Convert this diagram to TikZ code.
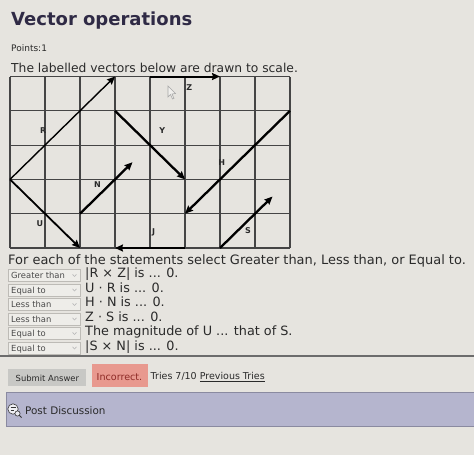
\documentclass[tikz,border=0pt]{standalone}
\usepackage{fontspec}
\setmainfont{DejaVu Sans}
\usetikzlibrary{arrows.meta}
\definecolor{bg}{HTML}{E6E4DF}
\definecolor{titlecol}{HTML}{2F2A45}
\definecolor{txt}{HTML}{2A2A2A}
\definecolor{gridcol}{HTML}{454545}
\definecolor{ddfill}{HTML}{EEEDE9}
\definecolor{ddline}{HTML}{BDBBB6}
\definecolor{btnfill}{HTML}{C8C8C5}
\definecolor{badfill}{HTML}{E8998F}
\definecolor{badtxt}{HTML}{8E2A26}
\definecolor{lav}{HTML}{B5B5CE}
\definecolor{lavline}{HTML}{8A8AA0}
\begin{document}
\begin{tikzpicture}[x=1pt,y=-1pt,
  plain/.style={anchor=base west,inner sep=0pt,text=txt},
  gridline/.style={draw=gridcol,line width=1.2pt},
  vec/.style={line width=2.3pt,-{Stealth[length=8pt,width=7pt,inset=1pt]}},
  thinvec/.style={line width=1.4pt,-{Stealth[length=8pt,width=7pt,inset=1pt]}},
  lbl/.style={inner sep=0pt,font=\bfseries\fontsize{8}{9}\selectfont,text=txt},
  ddbox/.style={draw=ddline,fill=ddfill,line width=0.5pt,minimum width=72pt,minimum height=12pt,inner sep=0pt,anchor=west},
  ddtext/.style={anchor=base west,inner sep=0pt,font=\fontsize{8.4}{10}\selectfont,text=txt!85},
  stmt/.style={anchor=base west,inner sep=0pt,font=\fontsize{12.8}{15}\selectfont,text=txt}]
\fill[bg] (0,0) rectangle (474,455);
\useasboundingbox (0,0) rectangle (474,455);

% header
\node[anchor=base west,inner sep=0pt,text=titlecol,font=\bfseries\fontsize{18}{20}\selectfont] (title) at (11,25) {Vector operations};
\node[plain,font=\fontsize{9}{11}\selectfont] (points) at (11,51.5) {Points:1};
\node[plain,font=\fontsize{12.3}{14}\selectfont] (intro) at (11,72) {The labelled vectors below are drawn to scale.};

% grid and vectors
\begin{scope}[shift={(10pt,-248pt)},x={(35pt,0pt)},y={(0pt,34.3pt)}]
  \foreach \gx in {0,...,8} {\draw[gridline] (\gx,0) -- (\gx,5);}
  \foreach \gy in {0,...,5} {\draw[gridline] (0,\gy) -- (8,\gy);}
  \coordinate (R0) at (0,2);   \coordinate (R1) at (3,5);
  \coordinate (U0) at (0,2);   \coordinate (U1) at (2,0);
  \coordinate (N0) at (2,1);   \coordinate (N1) at (3.5,2.5);
  \coordinate (Y0) at (3,4);   \coordinate (Y1) at (5,2);
  \coordinate (Z0) at (4,5);   \coordinate (Z1) at (6,5);
  \coordinate (H0) at (8,4);   \coordinate (H1) at (5,1);
  \coordinate (S0) at (6,0);   \coordinate (S1) at (7.5,1.5);
  \coordinate (J0) at (5,0);   \coordinate (J1) at (3,0);
  \draw[thinvec] (R0) -- (R1);
  \draw[thinvec,line width=1.8pt] (U0) -- (U1);
  \draw[vec] (N0) -- (N1);
  \draw[vec] (Y0) -- (Y1);
  \draw[vec,line width=2pt] (Z0) -- (Z1);
  \draw[vec] (H0) -- (H1);
  \draw[vec] (S0) -- (S1);
  \draw[vec] (J0) -- (J1);
  \node[lbl] (lR) at (0.95,3.42) {R};
  \node[lbl] (lU) at (0.85,0.7) {U};
  \node[lbl] (lN) at (2.5,1.85) {N};
  \node[lbl] (lY) at (4.35,3.42) {Y};
  \node[lbl] (lZ) at (5.12,4.68) {Z};
  \node[lbl] (lH) at (6.05,2.5) {H};
  \node[lbl] (lJ) at (4.1,0.45) {J};
  \node[lbl] (lS) at (6.8,0.52) {S};
\end{scope}
% mouse cursor
\draw[gray!70,line width=0.6pt,fill=bg!60!white] (168,86) -- (168,97) -- (170.5,94.5) -- (172.5,99) -- (174,98.3) -- (172,94) -- (175.5,93.5) -- cycle;

% statements
\node[plain,font=\fontsize{12.95}{15}\selectfont] (ask) at (8,264.5) {For each of the statements select Greater than, Less than, or Equal to.};
\foreach \i/\c/\sel/\st in {1/275.5/Greater than/{|R × Z| is ... 0.},
                          2/290/Equal to/{U · R is ... 0.},
                          3/304.5/Less than/{H · N is ... 0.},
                          4/319/Less than/{Z · S is ... 0.},
                          5/333.5/Equal to/{The magnitude of U ... that of S.},
                          6/348/Equal to/{|S × N| is ... 0.}}{
  \node[ddbox] (dd\i) at (8,\c) {};
  \node[ddtext] (ddt\i) at (11,\c+3) {\sel};
  \draw[gray!55,line width=0.6pt] ([xshift=-8pt,yshift=1.2pt]dd\i.east) -- ([xshift=-6pt,yshift=-1pt]dd\i.east) -- ([xshift=-4pt,yshift=1.2pt]dd\i.east);
  \node[stmt] (st\i) at (85,\c+2.3) {\st};
}
\draw[gray!85!black,line width=1.2pt] (0,356) -- (474,356);

% buttons
\node[fill=btnfill,minimum width=78pt,minimum height=17pt,inner sep=0pt,anchor=north west] (submitbox) at (8,369) {};
\node[plain,font=\fontsize{8.4}{10}\selectfont] (submit) at (15.5,381) {Submit Answer};
\node[fill=badfill,minimum width=56pt,minimum height=23pt,inner sep=0pt,anchor=north west] (badbox) at (92,364) {};
\node[anchor=base west,inner sep=0pt,text=badtxt,font=\fontsize{9.6}{11}\selectfont] (bad) at (96.5,380) {Incorrect.};
\node[plain,font=\fontsize{9.5}{11}\selectfont] (tries) at (150.5,379.5) {Tries 7/10 \underline{Previous Tries}};

% discussion bar
\node[fill=lav,draw=lavline,line width=0.8pt,minimum width=470pt,minimum height=34pt,inner sep=0pt,anchor=north west] (bar) at (6,392) {};
\draw[gray!40!black,line width=0.6pt,fill=white!80!lav] (13,409) circle (5.2);
\draw[gray!40!black,line width=0.5pt] (10.5,407.5) -- (15.5,407.5) (10.5,410) -- (14,410);
\draw[gray!40!black,line width=0.6pt,fill=white!70!lav] (17.5,413.5) circle (2.6);
\draw[gray!40!black,line width=0.9pt] (19.3,415.3) -- (21.5,417.5);
\node[plain,font=\fontsize{10.4}{12}\selectfont] (post) at (25,414) {Post Discussion};
\end{tikzpicture}
\end{document}
